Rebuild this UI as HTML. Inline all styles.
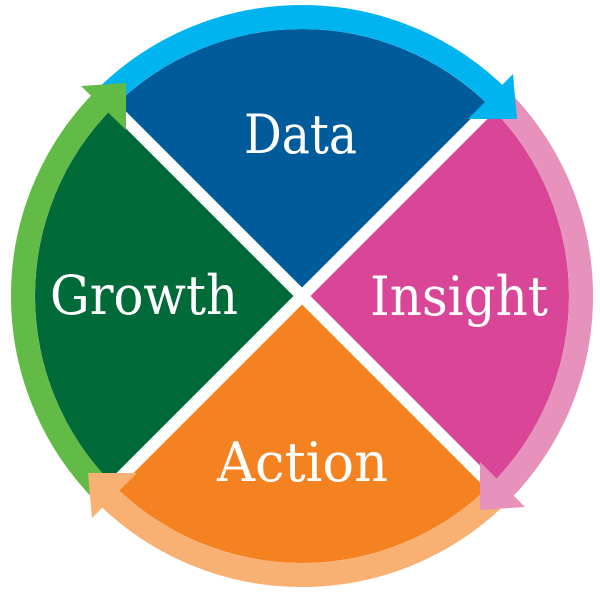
<!DOCTYPE html>
<html><head><meta charset="utf-8"><style>
html,body{margin:0;padding:0;background:#fff;width:600px;height:593px;overflow:hidden}
svg{display:block}
text{font-family:"DejaVu Serif","Liberation Serif",serif;fill:#fff;font-size:54px}
</style></head><body>
<svg width="600" height="593" viewBox="0 0 600 593" xmlns="http://www.w3.org/2000/svg">
<g transform="translate(302,296)">
  <path d="M0 0 L-188.8 -188.8 A267 267 0 0 1 188.8 -188.8 Z" fill="#005b9a"/>
  <path d="M0 0 L188.8 -188.8 A267 267 0 0 1 188.8 188.8 Z" fill="#d94697"/>
  <path d="M0 0 L188.8 188.8 A267 267 0 0 1 -188.8 188.8 Z" fill="#f58220"/>
  <path d="M0 0 L-188.8 188.8 A267 267 0 0 1 -188.8 -188.8 Z" fill="#006a38"/>
  <line x1="-200" y1="-200" x2="200" y2="200" stroke="#fff" stroke-width="12"/>
  <line x1="200" y1="-200" x2="-200" y2="200" stroke="#fff" stroke-width="12"/>
  <path d="M-197.3 -197.3 A279 279 0 0 1 197.3 -197.3" fill="none" stroke="#00b5ef" stroke-width="24"/>
  <path d="M197.3 -197.3 A279 279 0 0 1 197.3 197.3" fill="none" stroke="#e792bc" stroke-width="24"/>
  <path d="M197.3 197.3 A279 279 0 0 1 -197.3 197.3" fill="none" stroke="#f9b073" stroke-width="24"/>
  <path d="M-197.3 197.3 A279 279 0 0 1 -197.3 -197.3" fill="none" stroke="#63bb47" stroke-width="24"/>
</g>
<polygon points="513,74 517,119 468,119" fill="#00b5ef"/>
<polygon points="480,462 480,510 525,507" fill="#e792bc"/>
<polygon points="88,473 137,473 92,518" fill="#f9b073"/>
<polygon points="81,86 126,83 126,130" fill="#63bb47"/>
<text x="244" y="153" textLength="113" lengthAdjust="spacingAndGlyphs">Data</text>
<text x="50" y="314" textLength="188" lengthAdjust="spacingAndGlyphs">Growth</text>
<text x="370" y="315" textLength="178" lengthAdjust="spacingAndGlyphs">Insight</text>
<text x="217" y="481" textLength="171" lengthAdjust="spacingAndGlyphs">Action</text>
</svg>
</body></html>
